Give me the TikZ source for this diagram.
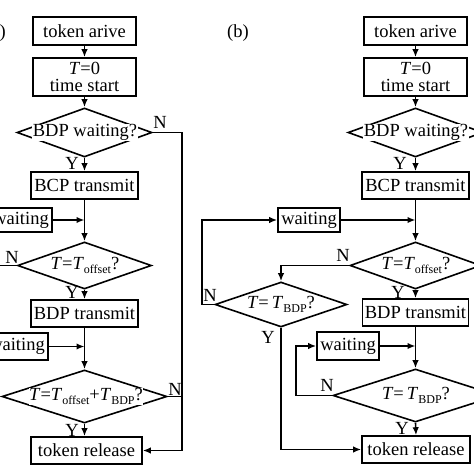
\documentclass[tikz,border=0pt]{standalone}
\usepackage{fontspec}
\setmainfont{Liberation Serif}
\usetikzlibrary{shapes.geometric,arrows.meta}
\newcommand{\Tv}{\textit{T}}
\newcommand{\sub}[1]{\raisebox{-4pt}{\fontsize{12}{12}\selectfont #1}}
\begin{document}
\begin{tikzpicture}[x=1pt,y=-1pt,
  every node/.style={font=\fontsize{18.5}{17}\selectfont},
  box/.style={draw,line width=1.6pt,inner sep=0pt,align=center,minimum height=27pt},
  dia/.style={draw,diamond,line width=1.6pt,inner sep=0pt},
  dtext/.style={fill=white,inner sep=0.6pt},
  ln/.style={line width=1.6pt},
  arr/.style={line width=1.6pt,-{Latex[length=8pt,width=6.5pt]}},
  lbl/.style={inner sep=0pt}]
\useasboundingbox (0,0) rectangle (474,474);
\clip (0,0) rectangle (474,474);
% ---------- panel (a) ----------
\node[lbl,anchor=east] (la) at (6,33) {(a)};
\node[box,minimum width=103pt,minimum height=28pt] (ta1) at (84.5,31) {token arive};
\node[box,minimum width=103pt,minimum height=38pt] (t01) at (84.5,77) {\Tv=0\\time start};
\node[dia,minimum width=135pt,minimum height=49pt] (d1) at (84.5,132.5) {};
\node[dtext] (d1t) at (85,132.5) {BDP waiting?};
\node[box,minimum width=107pt] (bcp1) at (84.5,185.5) {BCP transmit};
\node[box,minimum width=62pt,minimum height=24pt] (w1a) at (21,220) {waiting};
\node[dia,minimum width=134pt,minimum height=47pt] (d2) at (84.5,265.5) {};
\node[dtext] (d2t) at (85,265.5) {\Tv=\Tv\sub{offset}?};
\node[box,minimum width=107pt] (bdp1) at (84.5,313.5) {BDP transmit};
\node[box,minimum width=62pt,minimum height=27pt] (w2a) at (17,346.5) {waiting};
\node[dia,minimum width=165pt,minimum height=53pt] (d3) at (84.5,396.5) {};
\node[dtext] (d3t) at (86,396.5) {\Tv=\Tv\sub{offset}+\Tv\sub{BDP}?};
\node[box,minimum width=111pt] (tr1) at (86.5,450.5) {token release};
\coordinate (c1) at (182,0);
\coordinate (c2) at (-5,0);
\draw[arr] (ta1) -- (t01);
\draw[arr] (t01) -- (d1.north);
\draw[arr] (d1.south) -- (bcp1.north);
\draw[arr] (d1.east) -| (c1 |- tr1.east) -- (tr1.east);
\draw[arr] (bcp1.south) -- (d2.north);
\draw[arr] (w1a.east) -- (w1a.east -| bcp1.south);
\draw[ln] (d2.west) -- (d2.west -| c2);
\draw[arr] (d2.south) -- (bdp1.north);
\draw[arr] (bdp1.south) -- (d3.north);
\draw[arr] (w2a.east) -- (w2a.east -| bdp1.south);
\draw[arr] (d3.south) -- (d3.south |- tr1.north);
\draw[ln] (d3.east) -- (d3.east -| c1);
\node[lbl] (n1) at (160,122) {N};
\node[lbl] (y1) at (72,163) {Y};
\node[lbl] (n2) at (12,257) {N};
\node[lbl] (y2) at (72,292) {Y};
\node[lbl] (n3) at (175,389) {N};
\node[lbl] (y3) at (72,430) {Y};
% ---------- panel (b) ----------
\node[lbl] (lb) at (238,33) {(b)};
\node[box,minimum width=103pt,minimum height=28pt] (ta2) at (415.5,31) {token arive};
\node[box,minimum width=103pt,minimum height=38pt] (t02) at (415.5,77) {\Tv=0\\time start};
\node[dia,minimum width=135pt,minimum height=49pt] (d4) at (415.5,132.5) {};
\node[dtext] (d4t) at (416,132.5) {BDP waiting?};
\node[box,minimum width=107pt] (bcp2) at (415.5,185.5) {BCP transmit};
\node[box,minimum width=62pt,minimum height=24pt] (wa) at (309,220) {waiting};
\node[dia,minimum width=131pt,minimum height=47pt] (d5) at (415.5,265.5) {};
\node[dtext] (d5t) at (416,265.5) {\Tv=\Tv\sub{offset}?};
\node[dia,minimum width=132pt,minimum height=45pt] (d6) at (281,304.5) {};
\node[dtext] (d6t) at (281,304.5) {\Tv=\,\Tv\sub{BDP}?};
\node[box,minimum width=106pt] (bdp2) at (415.5,312.5) {BDP transmit};
\node[box,minimum width=62pt,minimum height=28pt] (wb) at (348,346) {waiting};
\node[dia,minimum width=165pt,minimum height=53pt] (d7) at (415.5,395.5) {};
\node[dtext] (d7t) at (416,395.5) {\Tv=\,\Tv\sub{BDP}?};
\node[box,minimum width=108pt] (tr2) at (416,449.5) {token release};
\coordinate (c3) at (202,0);
\coordinate (c4) at (296,0);
\draw[arr] (ta2) -- (t02);
\draw[arr] (t02) -- (d4.north);
\draw[arr] (d4.south) -- (bcp2.north);
\draw[arr] (bcp2.south) -- (d5.north);
\draw[arr] (wa.east) -- (wa.east -| bcp2.south);
\draw[arr] (d5.west) -| (d6.north);
\draw[arr] (d6.west) -- (d6.west -| c3) |- (wa.west);
\draw[arr] (d6.south) |- (tr2.west);
\draw[arr] (d5.south) -- (bdp2.north);
\draw[arr] (bdp2.south) -- (d7.north);
\draw[arr] (wb.east) -- (wb.east -| bdp2.south);
\draw[arr] (d7.west) -- (d7.west -| c4) |- (wb.west);
\draw[arr] (d7.south) -- (tr2.north);
\node[lbl] (y4) at (400,163) {Y};
\node[lbl] (n4) at (343,255) {N};
\node[lbl] (n5) at (210,295) {N};
\node[lbl] (y5) at (268,337) {Y};
\node[lbl] (y6) at (398,292) {Y};
\node[lbl] (n6) at (327,385) {N};
\node[lbl] (y7) at (402,428) {Y};
\end{tikzpicture}
\end{document}
